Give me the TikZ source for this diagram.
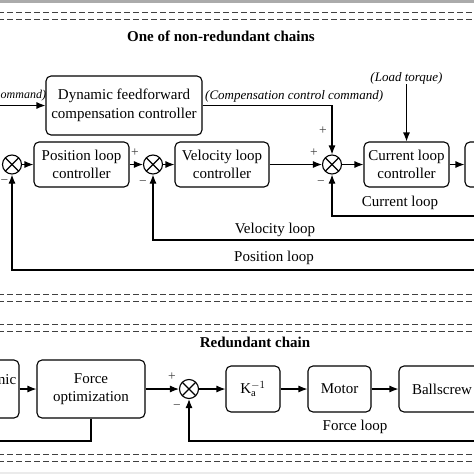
\documentclass[tikz,border=0pt]{standalone}
\usepackage{fontspec}
\setmainfont{Liberation Serif}
\usetikzlibrary{arrows.meta}
\tikzset{
  blk/.style={draw, rounded corners=5pt, line width=1.1pt, align=center, inner sep=0pt,
    font=\fontsize{15}{18.5}\selectfont},
  sumc/.style={draw, circle, minimum size=19pt, inner sep=0pt, line width=1.1pt,
    path picture={\draw[line width=1.1pt] (path picture bounding box.south west) -- (path picture bounding box.north east)
      (path picture bounding box.north west) -- (path picture bounding box.south east);}},
  arr/.style={-{Latex[length=9pt,width=7pt]}, line width=1.1pt},
  wire/.style={line width=1.1pt},
  lbl/.style={font=\fontsize{15}{18}\selectfont, inner sep=0pt},
  ital/.style={font=\fontsize{13}{15}\selectfont\itshape, inner sep=0pt},
  ttl/.style={font=\fontsize{15}{18}\selectfont\bfseries, inner sep=0pt},
  sgn/.style={font=\fontsize{13.5}{14}\selectfont, inner sep=0pt, text=black!75},
  dsh/.style={line width=0.9pt, draw=black!75, dash pattern=on 6pt off 3pt},
}
\begin{document}
\begin{tikzpicture}[x=1pt,y=-1pt]
\clip (0,0) rectangle (474,474);
\fill[white] (0,0) rectangle (474,474);
\fill[black!33] (0,0) rectangle (474,2.5);
\fill[black!8] (0,471.5) rectangle (474,474);
% dashed separators
\foreach \yy in {12,19.5,294,301,324,331,454,461}
  \draw[dsh] (-2,\yy) -- (476,\yy);

% ---------- non-redundant chain ----------
\node[ttl] (t1) at (221,36) {One of non-redundant chains};

\node[blk, minimum width=156pt, minimum height=59pt] (dyn) at (124,105.5) {Dynamic feedforward\\compensation controller};
\coordinate (in0) at (-2,105.5);
\node[ital, font=\fontsize{12}{14}\selectfont\itshape, anchor=west] (pc) at (0.5,96) {ommand)};
\draw[arr] (in0) -- (dyn);

\node[blk, minimum width=95pt, minimum height=45pt] (pos) at (81.5,164.5) {Position loop\\controller};
\node[blk, minimum width=94pt, minimum height=45pt] (vel) at (222,164.5) {Velocity loop\\controller};
\node[blk, minimum width=85pt, minimum height=45pt] (cur) at (406.5,164.5) {Current loop\\controller};
\node[blk, minimum width=60pt, minimum height=45pt] (nxt) at (495,164.5) {};

\node[sumc] (s1) at (12,164.5) {};
\node[sumc] (s2) at (153,164.5) {};
\node[sumc] (s3) at (332,164.5) {};

\node[ital, anchor=west] (cc) at (205,96) {(Compensation control command)};
\node[ital] (lt) at (406.5,78) {(Load torque)};

\draw[arr] (dyn.east) -| (s3.north);
\draw[arr] (lt.south) -- (cur.north);
\draw[arr] (s1) -- (pos);
\draw[arr] (pos) -- (s2);
\draw[arr] (s2) -- (vel);
\draw[arr] (vel) -- (s3);
\draw[arr] (s3) -- (cur);
\draw[arr] (cur) -- (nxt);

\coordinate (fc) at (480,216);
\coordinate (fv) at (480,240);
\coordinate (fp) at (480,270);
\draw[arr] (fc) -| (s3.south);
\draw[arr] (fv) -| (s2.south);
\draw[arr] (fp) -| (s1.south);

\node[lbl] (lc) at (400,203) {Current loop};
\node[lbl] (lv) at (275,230) {Velocity loop};
\node[lbl] (lp) at (274,258) {Position loop};

\node[sgn] (p2) at (135,153) {+};
\node[sgn] (m2) at (143,183) {−};
\node[sgn] (p3) at (314,153) {+};
\node[sgn] (p3t) at (323,131) {+};
\node[sgn] (m3) at (321,183) {−};
\node[sgn] (m1) at (4.5,182) {−};

% ---------- redundant chain ----------
\node[ttl] (t2) at (255,342) {Redundant chain};

\node[blk, minimum width=80pt, minimum height=58pt] (lb) at (-21,389) {};
\node[lbl, anchor=east] (lbt) at (16.5,380) {mic};
\node[blk, minimum width=108pt, minimum height=58pt] (fo) at (91,389) {Force\\optimization};
\node[sumc] (s4) at (189,389) {};
\node[blk, minimum width=54pt, minimum height=46pt] (ka) at (253,389) {$\mathrm{K}_{\mathrm{a}}^{-1}$};
\node[blk, minimum width=63pt, minimum height=46pt] (mo) at (339.5,389) {Motor};
\node[blk, minimum width=86pt, minimum height=46pt] (bs) at (442,389) {Ballscrew};

\draw[arr] (lb) -- (fo);
\draw[arr] (fo) -- (s4);
\draw[arr] (s4) -- (ka);
\draw[arr] (ka) -- (mo);
\draw[arr] (mo) -- (bs);

\coordinate (ff) at (480,441);
\coordinate (fl) at (-5,441);
\draw[arr] (ff) -| (s4.south);
\draw[wire] (fo.south) |- (fl);

\node[lbl] (lf) at (355,427) {Force loop};
\node[sgn] (p4) at (172,377) {+};
\node[sgn] (m4) at (177,407) {−};
\end{tikzpicture}
\end{document}
